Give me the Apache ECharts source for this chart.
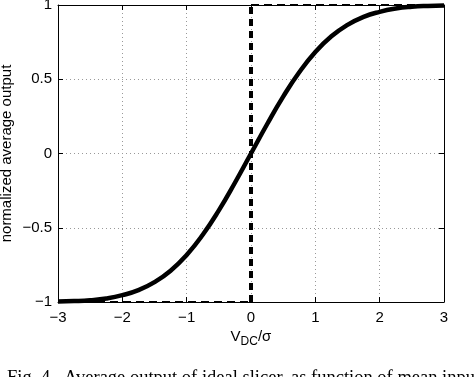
<!DOCTYPE html>
<html>
<head>
<meta charset="utf-8">
<script src="https://cdn.jsdelivr.net/npm/echarts@6/dist/echarts.min.js"></script>
<style>
  html, body { margin: 0; padding: 0; background: #fff; }
  #chart { width: 474px; height: 377px; }
</style>
</head>
<body>
<div id="chart"></div>
<script>
// 读图得到的数据
var curveX = [-3, -2.75, -2.5, -2.25, -2, -1.75, -1.5, -1.25, -1, -0.75, -0.5, -0.25, 0,
              0.25, 0.5, 0.75, 1, 1.25, 1.5, 1.75, 2, 2.25, 2.5, 2.75, 3];
var curveY = [-0.997, -0.994, -0.988, -0.976, -0.954, -0.92, -0.866, -0.789, -0.683, -0.547, -0.383, -0.197, 0,
              0.197, 0.383, 0.547, 0.683, 0.789, 0.866, 0.92, 0.954, 0.976, 0.988, 0.994, 0.997];
// 理想判决器 (阶跃)
var stepLowX = [-3, 0];
var stepLowY = [-1, -1];
var stepRiseX = [0, 0];
var stepRiseY = [-1, 1];
var stepHighX = [0, 3];
var stepHighY = [1, 1];
var xTicks = [-3, -2, -1, 0, 1, 2, 3];
var yTicks = [-1, -0.5, 0, 0.5, 1];
var caption = 'Fig. 4.  Average output of ideal slicer, as function of mean input';

function pairs(xs, ys) {
    return xs.map(function (x, i) { return [x, ys[i]]; });
}
function minus(v) {
    return String(v).replace('-', '\u2212');
}

var dom = document.getElementById('chart');
var chart = echarts.init(dom, null, { renderer: 'canvas' });

var tickFont = { fontFamily: 'Liberation Sans', fontSize: 15, color: '#000' };

var option = {
    animation: false,
    backgroundColor: '#fff',
    grid: { left: 58, right: 30, top: 5, bottom: 75, containLabel: false, outerBoundsMode: 'none' },
    xAxis: [{
        type: 'value',
        min: xTicks[0],
        max: xTicks[xTicks.length - 1],
        interval: 1,
        position: 'bottom',
        axisLine: { show: true, onZero: false, lineStyle: { color: '#000', width: 1 } },
        axisTick: { show: true, inside: true, length: 5, lineStyle: { color: '#000' } },
        axisLabel: Object.assign({ margin: 8, formatter: minus }, tickFont),
        splitLine: { show: true, lineStyle: { color: '#999', type: [1, 3], width: 1 } },
        name: '{v|V}{s|DC}{v|/σ}',
        nameLocation: 'middle',
        nameGap: 24,
        nameMoveOverlap: false,
        nameTextStyle: {
            rich: {
                v: { fontFamily: 'Liberation Sans', fontSize: 15, color: '#000' },
                s: { fontFamily: 'Liberation Sans', fontSize: 12, color: '#000', padding: [10, 0, 0, 0] }
            }
        }
    }, {
        type: 'value',
        min: xTicks[0],
        max: xTicks[xTicks.length - 1],
        interval: 1,
        position: 'top',
        axisLine: { show: true, onZero: false, lineStyle: { color: '#000', width: 1 } },
        axisTick: { show: true, inside: true, length: 5, lineStyle: { color: '#000' } },
        axisLabel: { show: false },
        splitLine: { show: false }
    }],
    yAxis: [{
        type: 'value',
        min: yTicks[0],
        max: yTicks[yTicks.length - 1],
        interval: 0.5,
        position: 'left',
        axisLine: { show: true, onZero: false, lineStyle: { color: '#000', width: 1 } },
        axisTick: { show: true, inside: true, length: 5, lineStyle: { color: '#000' } },
        axisLabel: Object.assign({ margin: 6, formatter: minus }, tickFont),
        splitLine: { show: true, lineStyle: { color: '#999', type: [1, 3], width: 1 } },
        name: 'normalized average output',
        nameLocation: 'middle',
        nameGap: 44,
        nameMoveOverlap: false,
        nameTextStyle: { fontFamily: 'Liberation Sans', fontSize: 15, color: '#000' }
    }, {
        type: 'value',
        min: yTicks[0],
        max: yTicks[yTicks.length - 1],
        interval: 0.5,
        position: 'right',
        axisLine: { show: true, onZero: false, lineStyle: { color: '#000', width: 1 } },
        axisTick: { show: true, inside: true, length: 5, lineStyle: { color: '#000' } },
        axisLabel: { show: false },
        splitLine: { show: false }
    }],
    series: [{
        name: 'stepLow',
        type: 'line',
        data: pairs(stepLowX, stepLowY),
        symbol: 'none',
        lineStyle: { color: '#000', width: 2, type: [8, 5] }
    }, {
        name: 'stepHigh',
        type: 'line',
        data: pairs(stepHighX, stepHighY),
        symbol: 'none',
        lineStyle: { color: '#000', width: 2, type: [8, 5] }
    }, {
        name: 'stepRise',
        type: 'line',
        data: pairs(stepRiseX, stepRiseY),
        symbol: 'none',
        lineStyle: { color: '#000', width: 4, type: [7, 5] }
    }, {
        name: 'average',
        type: 'line',
        data: pairs(curveX, curveY),
        smooth: true,
        symbol: 'none',
        lineStyle: { color: '#000', width: 4.5 }
    }],
    graphic: [{
        type: 'text',
        left: 7,
        top: 369,
        style: {
            text: caption,
            font: '18.5px "Liberation Serif"',
            fill: '#000'
        }
    }]
};

chart.setOption(option);
</script>
</body>
</html>
